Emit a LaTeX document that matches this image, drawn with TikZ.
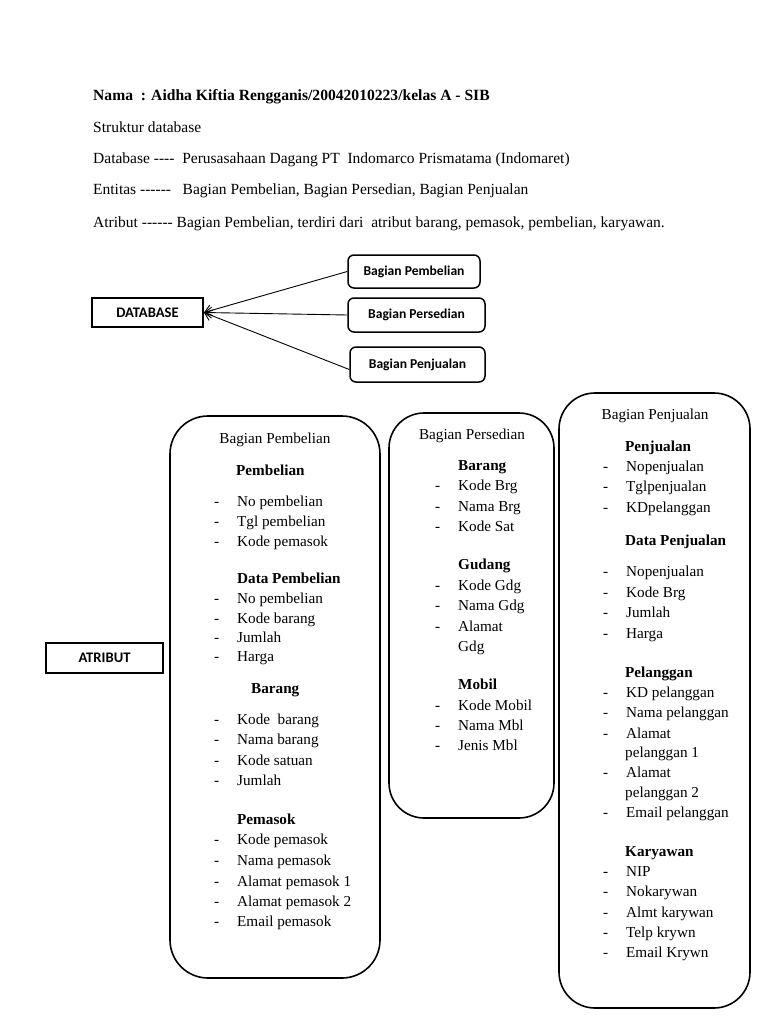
\documentclass[tikz,border=0pt]{standalone}
\usepackage{fontspec}
\setmainfont{Liberation Serif}[Ligatures=TeXOff]
\newfontfamily\boxfont{Carlito}
\usetikzlibrary{arrows.meta}
\newcommand\itm[1]{\makebox[23pt][l]{-}#1}
\begin{document}
\begin{tikzpicture}[x=1pt,y=-1pt,
  txt/.style={anchor=base west, inner sep=0, font=\fontsize{15.2}{17}\selectfont},
  hdr/.style={anchor=base west, inner sep=0, font=\fontsize{15.2}{17}\selectfont\bfseries},
  top/.style={anchor=base west, inner sep=0, font=\fontsize{15.5}{17}\selectfont},
  ttl/.style={anchor=base, inner sep=0, font=\fontsize{15.2}{17}\selectfont},
  lbl/.style={draw, line width=1.5, rounded corners=6, inner sep=0, font=\boxfont\bfseries\fontsize{13.6}{15}\selectfont},
  sqbox/.style={draw, line width=1.8, inner sep=0, font=\boxfont\bfseries\fontsize{14.6}{16}\selectfont},
  bigbox/.style={draw, line width=1.6, rounded corners=38, inner sep=0},
  link/.style={line width=0.9, -{Straight Barb[length=7pt, width=11pt]}}
]
\useasboundingbox (0,0) rectangle (768,1024);

% header
\node[top, font=\fontsize{15.6}{17}\selectfont\bfseries] (h1) at (93,101) {Nama\ \ : Aidha Kiftia Rengganis/20042010223/kelas A - SIB};
\node[top] (h2) at (93,133) {Struktur database};
\node[top] (h3) at (93,164) {Database ----\ \ Perusasahaan Dagang PT\ \ Indomarco Prismatama (Indomaret)};
\node[top] (h4) at (93,195) {Entitas ------\ \ \ Bagian Pembelian, Bagian Persedian, Bagian Penjualan};
\node[top] (h5) at (93,227) {Atribut ------ Bagian Pembelian, terdiri dari\ \ atribut barang, pemasok, pembelian, karyawan.};

% database diagram
\node[sqbox, minimum width=111, minimum height=29] (db) at (147.5,312.5) {DATABASE};
\node[lbl, minimum width=132, minimum height=33] (pb) at (414,271.5) {Bagian Pembelian};
\node[lbl, minimum width=137, minimum height=34] (ps) at (416.5,315) {Bagian Persedian};
\node[lbl, minimum width=135, minimum height=35] (pj) at (417.5,364.5) {Bagian Penjualan};
\draw[link] (pb.west) -- (db.east);
\draw[link] (ps.west) -- (db.east);
\draw[link] ([yshift=-5pt]pj.west) -- (db.east);

\node[sqbox, minimum width=117, minimum height=30] (at) at (104.5,658) {ATRIBUT};

% big boxes
\node[bigbox, minimum width=210, minimum height=562] (b1) at (275,697) {};
\node[bigbox, minimum width=165, minimum height=405, rounded corners=35] (b2) at (471.5,615.5) {};
\node[bigbox, minimum width=191, minimum height=615, rounded corners=36] (b3) at (654.5,700.5) {};

% box 1
\node[ttl] (t1) at (275,443) {Bagian Pembelian};
\node[hdr] (s11) at (236,475) {Pembelian};
\node[hdr] (s12) at (237,583) {Data Pembelian};
\node[hdr] (s13) at (251,693) {Barang};
\node[hdr] (s14) at (237,824) {Pemasok};
\foreach \y/\t [count=\i] in {501/No pembelian, 521/Tgl pembelian, 541/Kode pemasok,
  598/No pembelian, 618/Kode barang, 637/Jumlah, 656/Harga,
  719/Kode\ \ barang, 739/Nama barang, 760/Kode satuan, 780/Jumlah,
  839/Kode pemasok, 860/Nama pemasok, 881/Alamat pemasok 1, 901/Alamat pemasok 2, 921/Email pemasok}
  \node[txt] (a\i) at (214,\y+5) {\itm{\t}};

% box 2
\node[ttl] (t2) at (472,439) {Bagian Persedian};
\node[hdr] (s21) at (458,470) {Barang};
\node[hdr] (s22) at (458,569) {Gudang};
\node[hdr] (s23) at (458,689) {Mobil};
\foreach \y/\t [count=\i] in {485/Kode Brg, 506/Nama Brg, 526/Kode Sat,
  585/Kode Gdg, 605/Nama Gdg, 626/Alamat,
  705/Kode Mobil, 725/Nama Mbl, 745/Jenis Mbl}
  \node[txt] (c\i) at (435,\y+5) {\itm{\t}};
\node[txt] (c0) at (458,651) {Gdg};

% box 3
\node[ttl] (t3) at (655,419) {Bagian Penjualan};
\node[hdr] (s31) at (625,451) {Penjualan};
\node[hdr] (s32) at (625,545) {Data Penjualan};
\node[hdr] (s33) at (625,677) {Pelanggan};
\node[hdr] (s34) at (625,856) {Karyawan};
\foreach \y/\t [count=\i] in {466/Nopenjualan, 486/Tglpenjualan, 507/KDpelanggan,
  571/Nopenjualan, 592/Kode Brg, 612/Jumlah, 633/Harga,
  692/KD pelanggan, 712/Nama pelanggan, 733/Alamat, 772/Alamat, 812/Email pelanggan,
  871/NIP, 891/Nokarywan, 912/Almt karywan, 932/Telp krywn, 952/Email Krywn}
  \node[txt] (e\i) at (603,\y+5) {\itm{\t}};
\node[txt] (e0) at (625,757) {pelanggan 1};
\node[txt] (e00) at (625,797) {pelanggan 2};
\end{tikzpicture}
\end{document}
